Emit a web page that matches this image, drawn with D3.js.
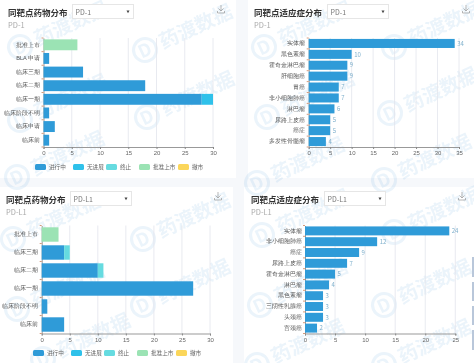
<!DOCTYPE html>
<html><head><meta charset="utf-8">
<script src="https://cdn.jsdelivr.net/npm/d3@7/dist/d3.min.js"></script>
<style>
html,body{margin:0;padding:0;background:#f6f8fb;overflow:hidden}
svg{display:block;font-family:"Noto Sans CJK SC","Noto Sans",sans-serif}
</style></head><body><svg id="c" width="474" height="363"></svg>
<script>
const stageNames = ["进行中","无进展","终止","批准上市","撤市"];
const stageColors = ["#2f9bd8","#2fc1ea","#66dbe0","#9be3b4","#fbd65a"];
const drugCats1 = ["批准上市","BLA 申请","临床三期","临床二期","临床一期","临床阶段不明","临床申请","临床前"];
const drugOngoing1 = [0,1,7,18,28,1,2,1];
const drugStalled1 = [0,0,0,0,2,0,0,0];
const drugStopped1 = [0,0,0,0,0,0,0,0];
const drugApproved1 = [6,0,0,0,0,0,0,0];
const drugCats2 = ["批准上市","临床三期","临床二期","临床一期","临床阶段不明","临床前"];
const drugOngoing2 = [0,4,10,27,1,4];
const drugStalled2 = [0,0,0,0,0,0];
const drugStopped2 = [0,1,1,0,0,0];
const drugApproved2 = [3,0,0,0,0,0];
const indCats1 = ["实体瘤","黑色素瘤","霍奇金淋巴瘤","肝细胞癌","胃癌","非小细胞肺癌","淋巴瘤","尿路上皮癌","癌症","多发性骨髓瘤"];
const indVals1 = [34,10,9,9,7,7,6,5,5,4];
const indCats2 = ["实体瘤","非小细胞肺癌","癌症","尿路上皮癌","霍奇金淋巴瘤","淋巴瘤","黑色素瘤","三阴性乳腺癌","头颈癌","宫颈癌"];
const indVals2 = [24,12,9,7,5,4,3,3,3,2];
const titles = ["同靶点药物分布","同靶点适应症分布"];
const targets = ["PD-1","PD-L1"];
const watermarkText = "药渡数据";
const watermarkLogos = [[20,47],[145,50],[264,47],[394,47],[20,120],[147,117],[267,117],[390,113],[17,177],[257,183],[384,180],[13,239],[143,239],[262,235],[394,232],[17,309],[143,305],[260,305],[384,305],[43,359],[257,365],[384,365]];
const sideBlocks = [[257,277],[282,301],[306,325],[330,350]];

const svg = d3.select("#c");

[[0,0,236,178],[248,0,226,178],[0,187,233,176],[244,187,230,176]].forEach(p=>{
  svg.append("rect").attr("x",p[0]).attr("y",p[1]).attr("width",p[2]).attr("height",p[3]).attr("fill","#fff");
});

// watermark sits behind the chart content
const wm=svg.append("g").attr("pointer-events","none").attr("opacity",.1);
watermarkLogos.forEach(s=>{
  const g=wm.append("g").attr("transform",`translate(${s[0]},${s[1]}) rotate(-25)`);
  g.append("text").attr("x",17).attr("y",7).attr("font-size",19.5).attr("font-weight",700).attr("fill","#3a8fd0").text(watermarkText);
  g.append("circle").attr("r",11.5).attr("fill","none").attr("stroke","#3a8fd0").attr("stroke-width",3);
  g.append("text").attr("x",-6.5).attr("y",6.5).attr("font-size",18).attr("font-weight",700).attr("fill","#3a8fd0").text("D");
});

function header(title, target, tx, ty, sx, sw, dlx){
  const g=svg.append("g");
  g.append("text").attr("x",tx).attr("y",ty).attr("font-size",8.5).attr("font-weight",700).attr("fill","#333").text(title);
  g.append("rect").attr("x",sx+.5).attr("y",ty-11.5).attr("width",sw).attr("height",14).attr("fill","#fff").attr("stroke","#e6e6e6");
  g.append("text").attr("x",sx+3.5).attr("y",ty-1.5).attr("font-size",7).attr("fill","#777").text(target);
  g.append("path").attr("d",d3.symbol(d3.symbolTriangle,4)()).attr("transform",`translate(${sx+sw-5},${ty-4.5}) rotate(180)`).attr("fill","#444");
  g.append("text").attr("x",tx).attr("y",ty+12).attr("font-size",7.5).attr("fill","#aaa").text(target);
  g.append("path").attr("d",`M${dlx},${ty-11}v6m-2.5,-2.5l2.5,2.5l2.5,-2.5M${dlx-3.5},${ty-5}v2h7v-2`).attr("fill","none").attr("stroke","#999").attr("stroke-width",.7);
}

function axes(g, x, y, ticks, cats){
  const [x0,x1]=x.range(), [y0,y1]=y.range();
  g.selectAll(".grid").data(ticks.filter(t=>t>0)).join("line")
    .attr("x1",d=>x(d)).attr("x2",d=>x(d)).attr("y1",y0).attr("y2",y1).attr("stroke","#e2e5ec").attr("stroke-width",.8);
  const ax=g.append("g").attr("transform",`translate(0,${y1})`).call(d3.axisBottom(x).tickValues(ticks).tickSize(2).tickPadding(2));
  ax.selectAll("text").attr("font-size",6).attr("fill","#666").attr("font-family","inherit");
  ax.selectAll("line").attr("stroke","#888"); ax.select(".domain").attr("stroke","#999");
  const ay=g.append("g").attr("transform",`translate(${x0},0)`).call(d3.axisLeft(y).tickSize(0).tickPadding(3.5));
  ay.selectAll("text").attr("font-size",5.6).attr("fill","#555").attr("font-family","inherit");
  ay.select(".domain").attr("stroke","#999");
  const step=y.step();
  g.selectAll(".yt").data(d3.range(cats.length+1)).join("line")
    .attr("x1",x0-2).attr("x2",x0).attr("y1",i=>y0+i*step).attr("y2",i=>y0+i*step).attr("stroke","#c9805a").attr("stroke-width",.8);
}

function drugChart(cats, ongoing, stalled, stopped, approved, box, max, ticks){
  const g=svg.append("g");
  const x=d3.scaleLinear().domain([0,max]).range([box[0],box[1]]);
  const y=d3.scaleBand().domain(cats).range([box[2],box[3]]).paddingInner(.2).paddingOuter(.1);
  axes(g,x,y,ticks,cats);
  const rows=cats.map((c,i)=>({cat:c,a:ongoing[i],b:stalled[i],c:stopped[i],d:approved[i],e:0}));
  d3.stack().keys(["a","b","c","d","e"])(rows).forEach((s,k)=>{
    g.append("g").selectAll("rect").data(s).join("rect")
      .attr("x",d=>x(d[0])).attr("width",d=>x(d[1])-x(d[0]))
      .attr("y",d=>y(d.data.cat)).attr("height",y.bandwidth()).attr("fill",stageColors[k]);
  });
}

function indChart(cats, vals, box, max, ticks){
  const g=svg.append("g");
  const x=d3.scaleLinear().domain([0,max]).range([box[0],box[1]]);
  const y=d3.scaleBand().domain(cats).range([box[2],box[3]]).paddingInner(.17).paddingOuter(.085);
  axes(g,x,y,ticks,cats);
  g.append("g").selectAll("rect").data(vals).join("rect")
    .attr("x",box[0]).attr("y",(d,i)=>y(cats[i])).attr("width",d=>x(d)-box[0]).attr("height",y.bandwidth()).attr("fill",stageColors[0]);
  g.append("g").selectAll("text").data(vals).join("text")
    .attr("x",d=>x(d)+2.5).attr("y",(d,i)=>y(cats[i])+y.bandwidth()/2+2.2).attr("font-size",6).attr("fill","#7fb0cc").text(d=>d);
}

const legendOffsets=[0,38,71,104,143];
function legend(lx, ly){
  const g=svg.append("g");
  stageNames.forEach((n,i)=>{
    const px=lx+legendOffsets[i];
    g.append("rect").attr("x",px).attr("y",ly-3).attr("width",11).attr("height",6).attr("rx",1.5).attr("fill",stageColors[i]);
    g.append("text").attr("x",px+14).attr("y",ly+2).attr("font-size",5.6).attr("fill","#666").text(n);
  });
}

header(titles[0],targets[0],8,16,72,61,221);
drugChart(drugCats1,drugOngoing1,drugStalled1,drugStopped1,drugApproved1,[43.5,213,38,147],30,[0,5,10,15,20,25,30]);
legend(35,167);

header(titles[1],targets[0],254,16,327,61,466);
indChart(indCats1,indVals1,[308.7,459,38,147],35,[0,5,10,15,20,25,30,35]);

header(titles[0],targets[1],6,203,70,61,218);
drugChart(drugCats2,drugOngoing2,drugStalled2,drugStopped2,drugApproved2,[41.7,210,225.5,333.5],30,[0,5,10,15,20,25,30]);
legend(33,353);

header(titles[1],targets[1],251,203,324,61,462);
indChart(indCats2,indVals2,[305,455.3,225.5,333.5],25,[0,5,10,15,20,25]);

svg.append("g").selectAll("rect").data(sideBlocks).join("rect")
  .attr("x",472).attr("y",d=>d[0]).attr("width",2).attr("height",d=>d[1]-d[0]).attr("fill","#b9c7da");
</script></body></html>
